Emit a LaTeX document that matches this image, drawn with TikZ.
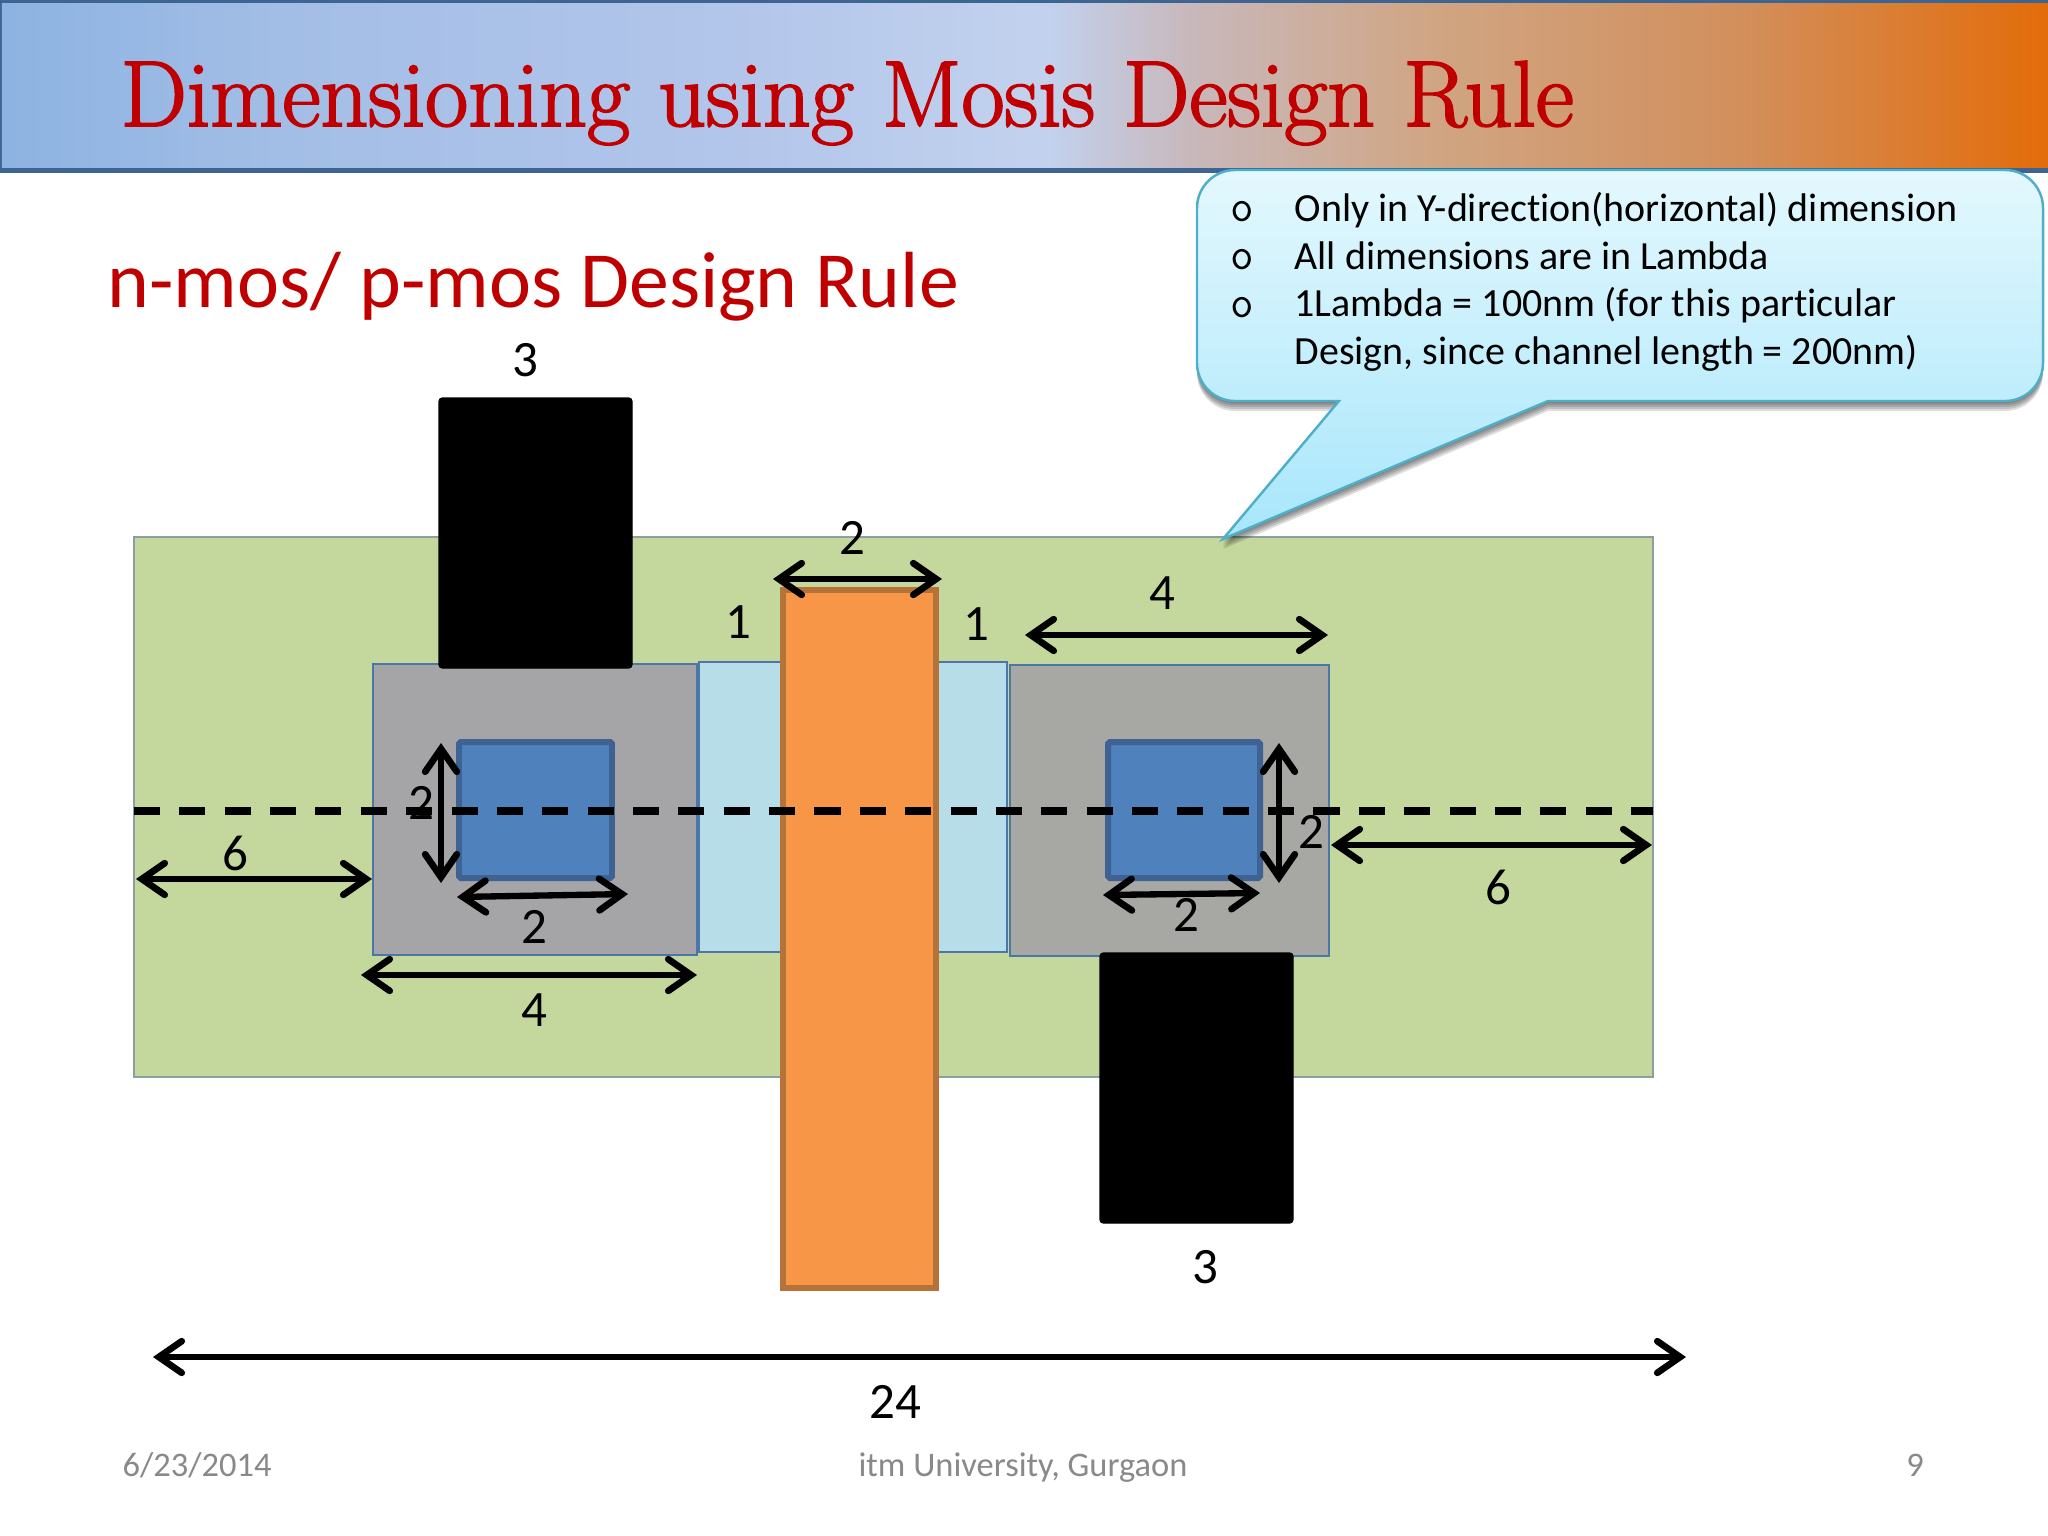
\documentclass[tikz,border=0pt]{standalone}
\usepackage{fontspec}
\usetikzlibrary{arrows.meta}
\newfontfamily\calibrifont[Ligatures=NoCommon]{Carlito}
\newfontfamily\titlefont[FakeBold=2]{Latin Modern Roman}
\definecolor{titlered}{HTML}{C00000}
\definecolor{barblue}{HTML}{3E6491}
\definecolor{wellgreen}{HTML}{C4D79D}
\definecolor{welledge}{HTML}{8C9FA0}
\definecolor{diffgrayL}{HTML}{A5A4A6}
\definecolor{diffgrayR}{HTML}{A7A8A3}
\definecolor{edgeblue}{HTML}{4A76A8}
\definecolor{chanblue}{HTML}{B7DEE8}
\definecolor{contactblue}{HTML}{4F81BD}
\definecolor{contactedge}{HTML}{3E6291}
\definecolor{gateorange}{HTML}{F79646}
\definecolor{gateedge}{HTML}{B5733A}
\definecolor{footgray}{HTML}{898989}
\definecolor{calltop}{HTML}{E3F8FD}
\definecolor{callbot}{HTML}{A8E6FC}
\definecolor{calledge}{HTML}{4FAFC8}
\definecolor{barA}{HTML}{8DB3E2}
\definecolor{barB}{HTML}{A3BEE6}
\definecolor{barC}{HTML}{B2C5EA}
\definecolor{barD}{HTML}{C2D2EE}
\definecolor{barE}{HTML}{C8B8BC}
\definecolor{barF}{HTML}{D0A583}
\definecolor{barG}{HTML}{D28F5C}
\definecolor{barH}{HTML}{E36C0A}
\pgfdeclarehorizontalshading{titlebar}{100bp}{
  color(0bp)=(barA); color(25bp)=(barA); color(32bp)=(barB); color(42.5bp)=(barC); color(50.5bp)=(barD);
  color(54bp)=(barE); color(60bp)=(barF); color(67.5bp)=(barG); color(75bp)=(barH); color(100bp)=(barH)}
\newcommand{\callpath}{(1339,401) [rounded corners=10.8pt] -- (1197,401) -- (1197,170) -- (2043,170) -- (2043,401) [sharp corners] -- (1548,401) -- (1223,539) -- cycle}
\tikzset{
  dimtip/.tip={Straight Barb[length=6.5pt,width=9pt,line width=1.9pt,line cap=round]},
  dimline/.style={line width=1.8pt, black, dimtip-dimtip},
  dimlabel/.style={inner sep=0pt, font=\calibrifont\fontsize{14.5}{17}\selectfont},
  calltext/.style={inner sep=0pt, anchor=base west, font=\calibrifont\fontsize{11.36}{14}\selectfont},
  bullettext/.style={inner sep=0pt, anchor=base, font=\ttfamily\fontsize{13}{14}\selectfont},
  foottext/.style={inner sep=0pt, anchor=base, footgray, font=\calibrifont\fontsize{9.8}{12}\selectfont},
  diffbox/.style={draw=edgeblue, line width=.6pt},
  contactbox/.style={fill=contactblue, draw=contactedge, line width=1.7pt, rounded corners=.5pt},
  metalbox/.style={fill=black, rounded corners=1pt},
}
\begin{document}
\begin{tikzpicture}[x=0.01cm, y=-0.01cm]
\useasboundingbox (0,0) rectangle (2048,1536);

\fill[barblue] (0,0) rectangle (2048,173);
\shade[shading=titlebar] (2,3) rectangle (2048,167);
\node[inner sep=0pt, anchor=base west, text=titlered, font=\titlefont\fontsize{26.6}{30}\selectfont] (title) at (120,126) {Dimensioning using Mosis Design Rule};
\node[inner sep=0pt, anchor=base west, text=titlered, font=\calibrifont\fontsize{22.65}{28}\selectfont] (subtitle) at (107,307) {n-mos/ p-mos Design Rule};

\draw[draw=welledge, fill=wellgreen, line width=.4pt] (134,537) rectangle (1653,1077);
\fill[chanblue, draw=edgeblue, line width=.4pt] (699,662) rectangle (1007,952);
\draw[diffbox, fill=diffgrayL] (373,664) rectangle (697,955);
\draw[diffbox, fill=diffgrayR] (1010,665) rectangle (1329,956);
\draw[metalbox] (439,398) rectangle (632,668);
\draw[metalbox] (1100,953) rectangle (1293,1223);
\draw[contactbox] (459,742) rectangle (612,878);
\draw[contactbox] (1108,742) rectangle (1260,878);
\draw[fill=gateorange, draw=gateedge, line width=1.5pt] (783,590) rectangle (936,1288);

\draw[line width=2pt, dash pattern=on 7.4pt off 5.5pt] (134,811) -- (1653,811);

\coordinate (wellL) at (136,879);
\coordinate (diffL) at (372,879);
\coordinate (wellR) at (1652,845);
\coordinate (diffR) at (1331,845);
\coordinate (contLtop) at (441,743);
\coordinate (contLbot) at (441,883);
\coordinate (contRtop) at (1279,743);
\coordinate (contRbot) at (1279,883);
\coordinate (widLa) at (457,897);
\coordinate (widLb) at (628,894);
\coordinate (widRa) at (1103,895);
\coordinate (widRb) at (1260,893);
\coordinate (botLa) at (361,975);
\coordinate (botLb) at (697,975);
\coordinate (topRa) at (1025,635);
\coordinate (topRb) at (1328,635);
\coordinate (gateA) at (773,579);
\coordinate (gateB) at (942,579);
\coordinate (allA) at (153,1357);
\coordinate (allB) at (1686,1357);
\draw[dimline] (wellL) -- (diffL);
\draw[dimline] (diffR) -- (wellR);
\draw[dimline] (contLtop) -- (contLbot);
\draw[dimline] (contRtop) -- (contRbot);
\draw[dimline] (widLa) -- (widLb);
\draw[dimline] (widRa) -- (widRb);
\draw[dimline] (botLa) -- (botLb);
\draw[dimline] (topRa) -- (topRb);
\draw[dimline] (gateA) -- (gateB);
\draw[dimline] (allA) -- (allB);

\node[dimlabel] (m1) at (525,360) {3};
\node[dimlabel] (m2) at (1205,1267) {3};
\node[dimlabel] (g1) at (852,538) {2};
\node[dimlabel] (s1) at (738,622) {1};
\node[dimlabel] (s2) at (976,624) {1};
\node[dimlabel] (d1) at (1162,593) {4};
\node[dimlabel] (d2) at (534,1010) {4};
\node[dimlabel] (c1) at (421,803) {2};
\node[dimlabel] (c2) at (534,927) {2};
\node[dimlabel] (c3) at (1186,915) {2};
\node[dimlabel] (c4) at (1311,832) {2};
\node[dimlabel] (w1) at (235,853) {6};
\node[dimlabel] (w2) at (1498,887) {6};
\node[dimlabel] (total) at (895,1402) {24};

\foreach \d in {2,4,...,10}
  \fill[black, opacity=.13, shift={(0,\d)}] \callpath;
\path[draw=calledge, line width=.7pt, top color=calltop, bottom color=callbot] \callpath;
\node[bullettext] (b1) at (1242,221) {o};
\node[bullettext] (b2) at (1242,269) {o};
\node[bullettext] (b3) at (1242,317) {o};
\node[calltext] (t1) at (1294,221) {Only in Y-direction(horizontal) dimension};
\node[calltext] (t2) at (1294,269) {All dimensions are in Lambda};
\node[calltext] (t3) at (1294,316) {1Lambda = 100nm (for this particular};
\node[calltext] (t4) at (1294,364) {Design, since channel length = 200nm)};

\node[foottext, anchor=base west] (date) at (122,1476) {6/23/2014};
\node[foottext] (univ) at (1023,1476) {itm University, Gurgaon};
\node[foottext] (page) at (1915,1476) {9};
\end{tikzpicture}
\end{document}
